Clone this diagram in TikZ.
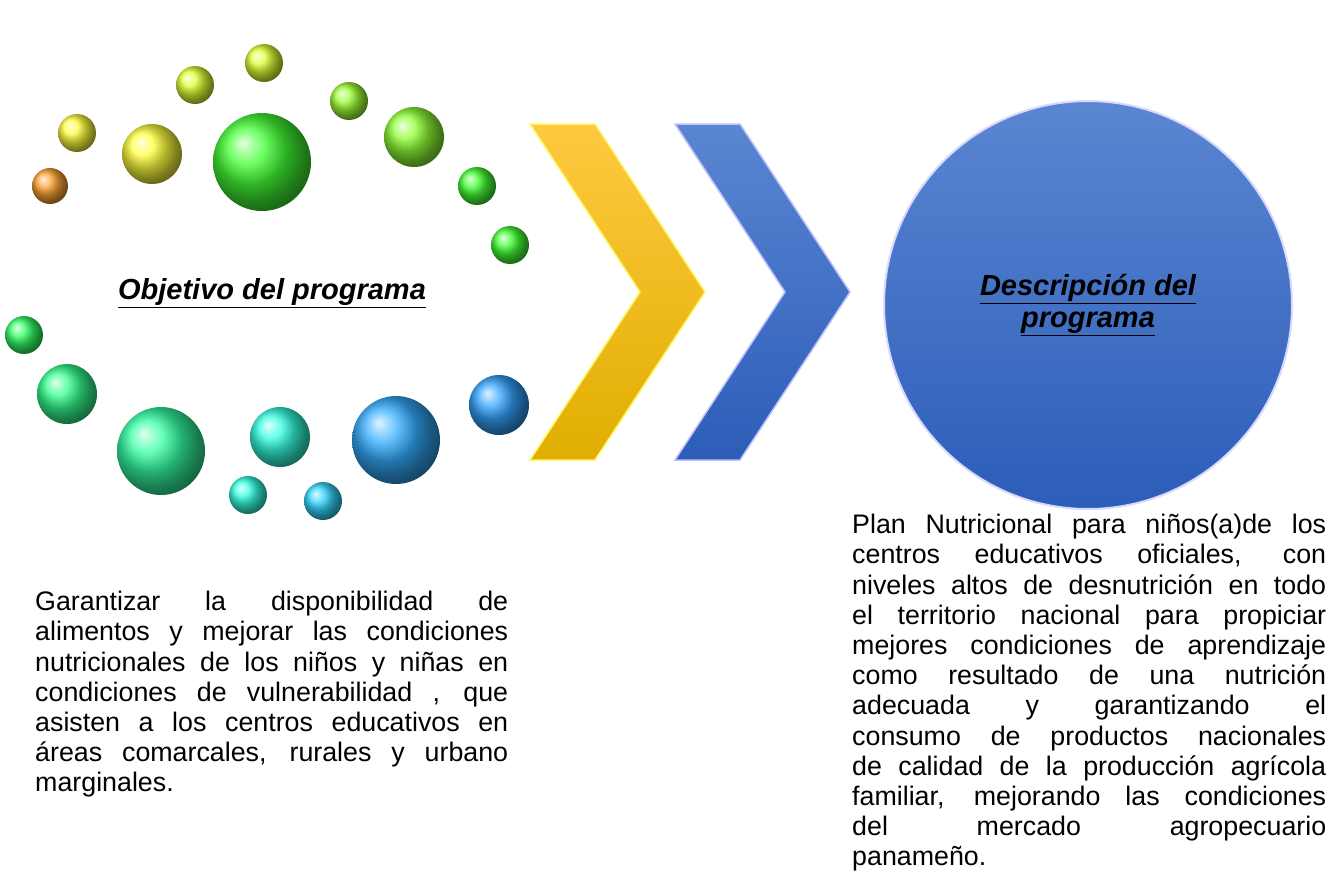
\documentclass[tikz,border=0pt]{standalone}
\usepackage{fontspec}
\setmainfont{Liberation Sans}
\usetikzlibrary{shapes.geometric}
\definecolor{btop}{HTML}{5A86D2}
\definecolor{bbot}{HTML}{2C5DB8}
\definecolor{ytop}{HTML}{FFC940}
\definecolor{ybot}{HTML}{E0AE00}
\begin{document}
\begin{tikzpicture}[x=1pt,y=-1pt,
  bub/.style={circle,shading=ball,inner sep=0pt},
  par/.style={anchor=north west,align=justify,inner sep=0pt,font=\fontsize{26.8}{30.2}\selectfont},
  ttl/.style={font=\fontsize{29}{30}\selectfont\bfseries\itshape,align=center}]
\useasboundingbox (0,0) rectangle (1343,895);
\foreach \x/\y/\r/\c [count=\i] in {50/186/18/orange!90!yellow,77/133/19/yellow!95!white,152/154/30/yellow!95!white,195/85/19/lime!60!yellow,264/63/19/lime!60!yellow,262/162/49/green!90!lime,349/101/19/lime!70!green,414/137/30/lime!60!green,477/186/19/green!90!lime,510/245/19/green!90!lime,24/335/19/green!75!cyan,67/394/30/green!55!cyan,161/451/44/green!45!cyan,280/437/30/cyan!85!green,248/495/19/cyan!85!green,323/501/19/cyan!80!blue,396/440/44/cyan!60!blue,499/405/30/blue!45!cyan}
  \node[bub,ball color=\c!80!white,minimum size=2*\r] (b\i) at (\x,\y) {};
\fill[top color=ytop,bottom color=ybot,draw=yellow!60!white,line width=1.5pt] (530,124) -- (595,124) -- (705,292) -- (595,460) -- (530,460) -- (640,292) -- cycle;
\fill[top color=btop,bottom color=bbot,draw=blue!25!white,line width=1.5pt] (675,124) -- (740,124) -- (850,292) -- (740,460) -- (675,460) -- (785,292) -- cycle;
\node[circle,minimum size=408,inner sep=0pt,draw=blue!15!white,line width=2pt,top color=btop,bottom color=bbot] (c) at (1088,305) {};
\node[ttl] (t1) at (272,293) {\underline{Objetivo del programa}};
\node[ttl] (t2) at (1088,305) {\underline{Descripción del}\\[2pt]\underline{programa}};
\node[par,text width=473] (p1) at (35,591) {Garantizar la disponibilidad de\linebreak alimentos y mejorar las condiciones\linebreak nutricionales de los niños y niñas en\linebreak condiciones de vulnerabilidad , que\linebreak asisten a los centros educativos en\linebreak áreas comarcales, rurales y urbano\linebreak marginales.};
\node[par,text width=474] (p2) at (852,514) {Plan Nutricional para niños(a)de los\linebreak centros educativos oficiales, con\linebreak niveles altos de desnutrición en todo\linebreak el territorio nacional para propiciar\linebreak mejores condiciones de aprendizaje\linebreak como resultado de una nutrición\linebreak adecuada y garantizando el\linebreak consumo de productos nacionales\linebreak de calidad de la producción agrícola\linebreak familiar, mejorando las condiciones\linebreak del mercado agropecuario\linebreak panameño.};
\end{tikzpicture}
\end{document}
